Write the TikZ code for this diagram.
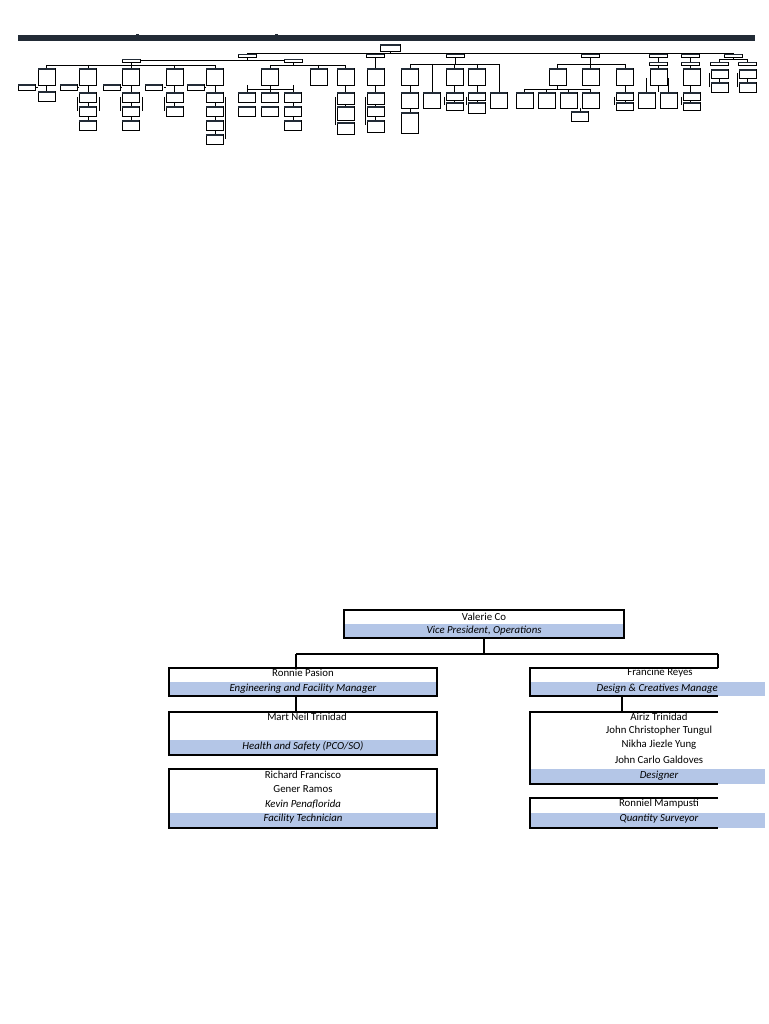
\documentclass[tikz,border=0pt]{standalone}
\usepackage{fontspec}
\setmainfont{Carlito}
\definecolor{bandblue}{HTML}{B4C6E7}
\definecolor{darkbar}{HTML}{222B36}
\begin{document}
\begin{tikzpicture}[x=1pt,y=-1pt,
  ln/.style={line width=0.7pt,black},
  bl/.style={line width=1.3pt,black},
  txt/.style={font=\fontsize{10.8}{12}\selectfont,anchor=center,inner sep=0pt},
  itxt/.style={txt,font=\fontsize{10.8}{12}\selectfont\itshape}]
\useasboundingbox (0,0) rectangle (768,1024);
% ---------- small overview chart ----------
\fill[darkbar] (18,35) rectangle (755,41);
\fill[darkbar] (136,34) rectangle (139,35);\fill[darkbar] (275,34) rectangle (278,35);
\newcommand\mytb[4]{\draw[ln,fill=white] (#1,#2) rectangle ++(#3,#4); \fill[darkbar] (#1,#2) rectangle ++(#3,1.6);}
\newcommand\mytab[2]{\draw[ln,fill=white] (#1-9,#2) rectangle ++(18,3); \fill[darkbar](#1-9,#2) rectangle ++(18,1);}
% root
\draw[ln] (390,51) -- (390,53);
\draw[ln] (247,53) -- (733,53);
\foreach \x in {247,375,455,590,658,690,733} {\draw[ln] (\x,53) -- (\x,56);}
\draw[ln] (247,57) -- (247,60) (131,60) -- (293,60);
\draw[ln] (131,62) -- (131,65) (46,65) -- (215,65);
\foreach \x in {46,88,131,174,215} {\draw[ln] (\x,65) -- (\x,68);}
\draw[ln] (293,62) -- (293,65) (270,65) -- (345,65);
\foreach \x in {270,318,345} {\draw[ln] (\x,65) -- (\x,68);}
\draw[ln] (375,57) -- (375,68);
\draw[ln] (455,57) -- (455,64) (410,64) -- (499,64);
\foreach \x in {410,454,477} {\draw[ln] (\x,64) -- (\x,68);}
\foreach \x in {432,499} {\draw[ln] (\x,64) -- (\x,92);}
\draw[ln] (590,57) -- (590,64) (557,64) -- (625,64);
\foreach \x in {557,590,625} {\draw[ln] (\x,64) -- (\x,68);}
\draw[ln] (557,85) -- (557,89) (524,89) -- (590,89);
\foreach \x in {524,546,568,590} {\draw[ln] (\x,89) -- (\x,92);}
\draw[ln] (658,57) -- (658,68) (690,57) -- (690,68);
\draw[ln] (733,57) -- (733,59) (719,59) -- (747,59) (719,59) -- (719,62) (747,59) -- (747,62);
% vertical sub-connectors
\foreach \x/\a/\b in {46/85/91,88/85/130,131/85/130,174/85/106,215/85/134,247/85/92,270/85/92,293/85/120,345/85/120,375/85/120,410/85/112,454/85/102,477/85/102,625/85/102,658/85/92,690/85/102,719/78/82,747/78/82,580/108/111}
  {\draw[ln] (\x,\a) -- (\x,\b);}
\draw[ln] (247,89) -- (293,89);
\foreach \x in {38,79,122,166,206} {\draw[ln] (\x-2,87) -- (\x,87);}
\foreach \x/\a/\b in {77/97/111,99/97/111,120/97/111,142/97/111,164/97/111,225/97/139,335/97/125,365/97/125,444/97/105,466/97/105,614/97/105,646/78/92,668/78/92,681/97/105,709/73/87,737/73/87}
  {\draw[ln] (\x,\a) -- (\x,\b);}
% tabs
\mytb{380}{44}{20}{7}
\foreach \x/\y in {247/54,375/54,455/54,590/54,658/54,690/54,733/54,131/59,293/59,658/62,690/62,719/62,747/62} {\mytab{\x}{\y}}
% level boxes
\foreach \x in {38,79,122,166,206,261,310,337,367,401,446,468,549,582,616,650,683}
  {\mytb{\x}{68}{17}{17}}
\foreach \x in {711,739} {\mytb{\x}{69}{17}{9}}
\foreach \x in {711,739} {\mytb{\x}{82}{17}{10}}
% side boxes
\foreach \x in {18,60,103,145,187} {\mytb{\x}{84}{17}{6}}
% lower boxes
\foreach \x/\y/\h in {38/91/10,
 79/92/10,79/106/10,79/120/10, 122/92/10,122/106/10,122/120/10,
 166/92/10,166/106/10, 206/92/10,206/106/10,206/120/10,206/134/10,
 238/92/10,238/106/10,261/92/10,261/106/10,284/92/10,284/106/10,284/120/10,
 337/92/12,337/106/14,337/122/12, 367/92/12,367/106/10,367/120/12,
 401/92/16,401/112/21,423/92/16,446/92/8,446/102/8,468/92/8,468/102/11,490/92/16,
 516/92/16,538/92/16,560/92/16,582/92/16,571/111/10,
 616/92/8,616/102/8,638/92/16,660/92/16,683/92/8,683/102/8}
 {\mytb{\x}{\y}{17}{\h}}
% ---------- detailed chart ----------
\fill[bandblue] (344,624) rectangle (624,638);
\draw[bl] (344,610) rectangle (624,638);
\node[txt] (vc) at (484,616.5) {Valerie Co};
\node[itxt] (vp) at (484,630.5) {Vice President, Operations};
\fill[bandblue] (169,682) rectangle (437,696);
\draw[bl] (169,668) rectangle (437,696);
\node[txt] (rp) at (303,672.5) {Ronnie Pasion};
\node[itxt] (ef) at (303,688.5) {Engineering and Facility Manager};
\fill[bandblue] (530,682) rectangle (765,696);
\draw[bl] (718,668) -- (530,668) -- (530,696) -- (718,696);
\node[txt] (fr) at (660,672.5) {Francine Reyes};
\node[itxt,anchor=east] (dc) at (718,688.5) {Design \& Creatives Manage};
\draw[bl] (484,638) -- (484,654);
\draw[bl] (296,654) -- (718,654);
\draw[bl] (296,654) -- (296,668);
\draw[bl] (718,654) -- (718,668);
% Mart
\fill[bandblue] (169,740) rectangle (437,755);
\draw[bl] (169,712) rectangle (437,755);
\node[txt] (mn) at (307,717) {Mart Neil Trinidad};
\node[itxt] (hs) at (303,746.5) {Health and Safety (PCO/SO)};
\draw[bl] (296,696) -- (296,712);
% Richard
\fill[bandblue] (169,813) rectangle (437,828);
\draw[bl] (169,769) rectangle (437,828);
\node[txt] (r1) at (303,775) {Richard Francisco};
\node[txt] (r2) at (303,789) {Gener Ramos};
\node[itxt] (r3) at (303,804) {Kevin Penaflorida};
\node[itxt] (ft) at (303,818.5) {Facility Technician};
% Designers
\fill[bandblue] (530,769) rectangle (765,784);
\draw[bl] (718,712) -- (530,712) -- (530,784) -- (718,784);
\node[txt] (d1) at (659,717) {Airiz Trinidad};
\node[txt] (d2) at (659,731) {John Christopher Tungul};
\node[txt] (d3) at (659,745) {Nikha Jiezle Yung};
\node[txt] (d4) at (659,760) {John Carlo Galdoves};
\node[itxt] (dg) at (659,775.5) {Designer};
\draw[bl] (622,696) -- (622,712);
% Quantity surveyor
\fill[bandblue] (530,813) rectangle (765,828);
\draw[bl] (718,798) -- (530,798) -- (530,828) -- (718,828);
\node[txt] (rm) at (659,804) {Ronniel Mampusti};
\node[itxt] (qs) at (659,818.5) {Quantity Surveyor};
\end{tikzpicture}
\end{document}
